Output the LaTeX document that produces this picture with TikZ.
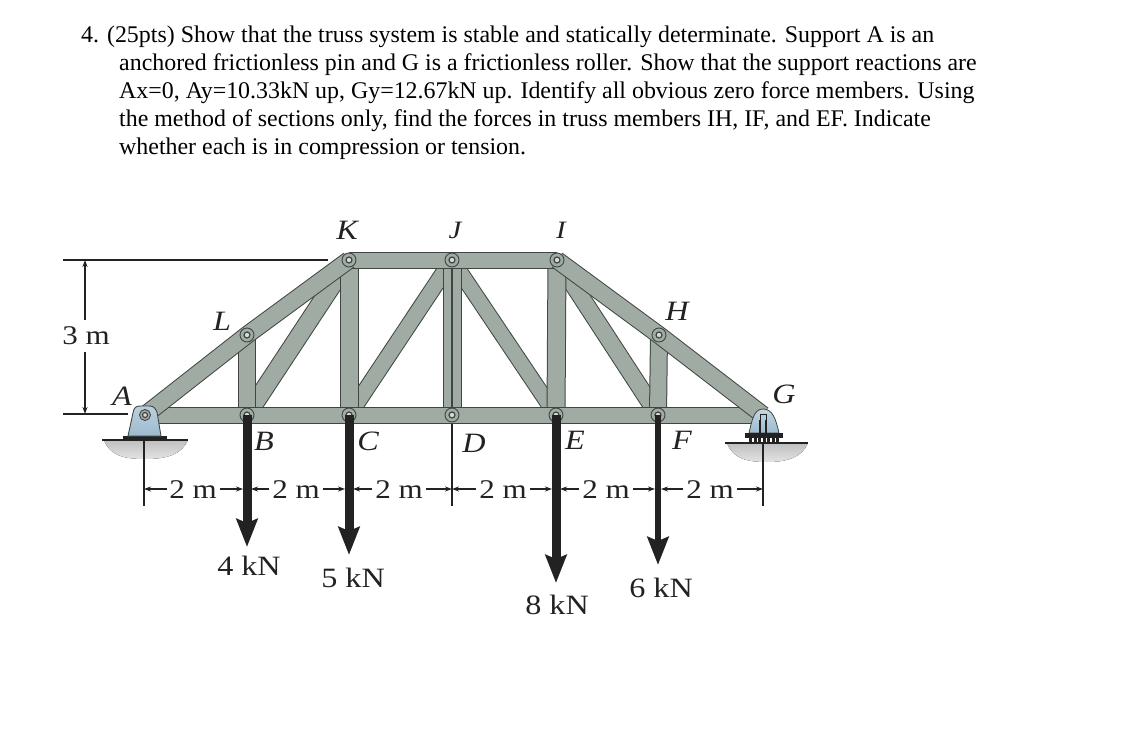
\documentclass[tikz,border=0pt]{standalone}
\usepackage{fontspec}
\setmainfont{Liberation Serif}
\newfontfamily\widefont[FakeStretch=1.15]{Liberation Serif}
\usetikzlibrary{arrows.meta}
\definecolor{trussgrey}{HTML}{A0ABA3}
\definecolor{trussedge}{HTML}{3F4641}
\definecolor{supportblue}{HTML}{9DBBCF}
\definecolor{inkdark}{HTML}{222222}
\tikzset{
  textline/.style={anchor=base west,inner sep=0pt,font=\fontsize{23.9}{23.9}\selectfont,text=black},
  member/.style={draw=trussedge,line width=1pt,double=trussgrey,double distance=#1},
  member/.default=14pt,
  pin/.style={circle,draw=trussedge,fill=trussgrey,line width=.9pt,minimum size=14pt,inner sep=0pt},
  pinhole/.style={circle,draw=trussedge,fill=white!85!black,line width=1.2pt,minimum size=6pt,inner sep=0pt},
  jointlabel/.style={inner sep=0pt,font=\widefont\fontsize{28}{28}\selectfont\itshape,text=inkdark},
  smalljoint/.style={inner sep=0pt,font=\widefont\fontsize{25}{25}\selectfont\itshape,text=inkdark},
  dimlabel/.style={inner sep=0pt,font=\widefont\fontsize{27}{27}\selectfont,text=inkdark},
  forcelabel/.style={inner sep=0pt,font=\widefont\fontsize{28}{28}\selectfont,text=inkdark},
  dimline/.style={draw=inkdark,line width=1.2pt},
  dimarrow/.style={draw=inkdark,line width=1.1pt,-{Stealth[length=7pt,width=5pt]}},
  load/.style={draw=inkdark,fill=none,line width=#1,-{Stealth[length=28pt,width=21pt,inset=4pt]}},
  load/.default=9pt,
}
\begin{document}
\begin{tikzpicture}[x=1pt,y=-1pt]
\useasboundingbox (0,0) rectangle (1122,736);
% text
\node[textline] (t1) at (81,42) {4. (25pts) Show that the truss system is stable and statically determinate. Support A is an};
\node[textline] (t2) at (119,70) {anchored frictionless pin and G is a frictionless roller. Show that the support reactions are};
\node[textline] (t3) at (119,98) {Ax=0, Ay=10.33kN up, Gy=12.67kN up. Identify all obvious zero force members. Using};
\node[textline] (t4) at (119,126) {the method of sections only, find the forces in truss members IH, IF, and EF. Indicate};
\node[textline] (t5) at (119,154) {whether each is in compression or tension.};
% joints
\coordinate (A) at (145,415);
\coordinate (B) at (247,415);
\coordinate (C) at (349,415);
\coordinate (D) at (452,415);
\coordinate (E) at (556,415);
\coordinate (F) at (658,415);
\coordinate (G) at (763,415);
\coordinate (K) at (349,260);
\coordinate (J) at (452,260);
\coordinate (I) at (557,260);
\coordinate (L) at (247,335);
\coordinate (H) at (659,335);
% ground
\coordinate (gA) at (145,440);
\coordinate (gG) at (763,443);
\fill[top color=gray!50,bottom color=gray!22] (104,440) .. controls (110,456) and (125,459) .. (145,459) .. controls (168,459) and (182,454) .. (188,440) -- cycle;
\fill[top color=gray!50,bottom color=gray!22] (727,443) .. controls (733,459) and (748,462) .. (767,462) .. controls (788,462) and (802,457) .. (808,443) -- cycle;
% dimension and extension lines behind the truss
\coordinate (d0) at (144,489);
\coordinate (d1) at (247,489);
\coordinate (d2) at (349,489);
\coordinate (d3) at (452,489);
\coordinate (d4) at (556,489);
\coordinate (d5) at (658,489);
\coordinate (d6) at (763,489);
\coordinate (e0) at (144,506);
\coordinate (e3) at (452,506);
\coordinate (e6) at (763,506);
\draw[dimline] (gA -| e0) -- (e0);
\draw[dimline] (D) -- (e3);
\draw[dimline] (gG) -- (e6);
\coordinate (w1) at (63,260);
\coordinate (w2) at (328,260);
\coordinate (w3) at (63,414);
\coordinate (w4) at (128,414);
\draw[dimline] (w1) -- (w2);
\draw[dimline] (w3) -- (w4);
\node[dimlabel] (h3) at (86,336) {3 m};
\coordinate (v1) at (85,260);
\coordinate (v2) at (85,320);
\coordinate (v3) at (85,352);
\coordinate (v4) at (85,414);
\draw[dimarrow] (v2) -- (v1);
\draw[dimarrow] (v3) -- (v4);
% truss members
\draw[member=17pt] (K) -- (B);
\draw[member=15pt] (C) -- (J);
\draw[member=14.5pt] (J) -- (E);
\draw[member=16pt] (I) -- (F);
\draw[member=16pt] (L) -- (B);
\draw[member=17pt] (K) -- (C);
\draw[member=17pt] (J) -- (D);
\draw[trussedge,line width=1.2pt] (J) -- (D);
\draw[member=17pt] (I) -- (E);
\draw[member=16pt] (H) -- (F);
\draw[member=15pt] (A) -- (B) -- (C) -- (D) -- (E) -- (F) -- (G);
\draw[member=15pt] (K) -- (J) -- (I);
\draw[member=16pt] (A) -- (L) -- (K);
\draw[member=16pt] (I) -- (H) -- (G);
% pins
\foreach \n in {K,J,I,L,H,B,C,D,E,F}{
  \node[pin] (p\n) at (\n) {};
  \node[pinhole] (q\n) at (\n) {};
}
% supports
\fill[inkdark] (123,436) rectangle (167,440);
\draw[dimline] (102,440) -- (188,440);
\draw[draw=trussedge,line width=.9pt,top color=supportblue!70,bottom color=supportblue] (128,436) -- (133,413) .. controls (134,407) and (136,406) .. (141,406) -- (149,406) .. controls (154,406) and (155,408) .. (157,412) -- (161,436) -- cycle;
\node[pin,minimum size=11pt,fill=gray!70] (pA) at (A) {};
\node[pinhole,minimum size=5pt] (qA) at (A) {};
\draw[draw=trussedge,line width=.8pt,top color=supportblue!60,bottom color=supportblue] (749,433) .. controls (752,420) and (754,409) .. (763,409) .. controls (773,409) and (776,420) .. (779,433) -- cycle;
\fill[inkdark] (745,433) rectangle (783,438);
\draw[inkdark,line width=5pt,dash pattern=on 3pt off 1.5pt] (749,440.5) -- (779,440.5);
\draw[dimline] (725,443) -- (808,443);
\draw[inkdark,line width=1.2pt] (760,420) -- (760,433) (766,420) -- (766,433);
\draw[inkdark,line width=1pt] (760,420) -- (760,414) -- (766,414) -- (766,420);
% loads
\coordinate (tB) at (247,547);
\coordinate (tC) at (349,555);
\coordinate (tE) at (556,583);
\coordinate (tF) at (658,565);
\draw[load] (B) -- (tB);
\draw[load] (C) -- (tC);
\draw[load] (E) -- (tE);
\draw[load=6.5pt] (F) -- (tF);
% span dimensions
\node[dimlabel] (s1) at (193,490) {2 m};
\node[dimlabel] (s2) at (296,490) {2 m};
\node[dimlabel] (s3) at (399,490) {2 m};
\node[dimlabel] (s4) at (503,490) {2 m};
\node[dimlabel] (s5) at (606,490) {2 m};
\node[dimlabel] (s6) at (710,490) {2 m};
\draw[dimarrow] (s1.west |- d0) ++(-2,0) -- (d0);
\draw[dimarrow] (s1.east |- d1) ++(3,0) -- ([xshift=-4pt]d1);
\draw[dimarrow] (s2.west |- d1) ++(-3,0) -- ([xshift=4pt]d1);
\draw[dimarrow] (s2.east |- d2) ++(3,0) -- ([xshift=-4pt]d2);
\draw[dimarrow] (s3.west |- d2) ++(-3,0) -- ([xshift=4pt]d2);
\draw[dimarrow] (s3.east |- d3) ++(3,0) -- (d3);
\draw[dimarrow] (s4.west |- d3) ++(-3,0) -- (d3);
\draw[dimarrow] (s4.east |- d4) ++(3,0) -- ([xshift=-4pt]d4);
\draw[dimarrow] (s5.west |- d4) ++(-3,0) -- ([xshift=4pt]d4);
\draw[dimarrow] (s5.east |- d5) ++(3,0) -- ([xshift=-3pt]d5);
\draw[dimarrow] (s6.west |- d5) ++(-3,0) -- ([xshift=3pt]d5);
\draw[dimarrow] (s6.east |- d6) ++(3,0) -- (d6);
% labels
\node[jointlabel] (lK) at (347,230) {K};
\node[smalljoint] (lJ) at (455,230) {J};
\node[smalljoint] (lI) at (561,230) {I};
\node[jointlabel] (lL) at (222,321) {L};
\node[jointlabel] (lH) at (677,311) {H};
\node[jointlabel] (lA) at (122,396) {A};
\node[jointlabel] (lG) at (784,394) {G};
\node[jointlabel] (lB) at (264,441) {B};
\node[jointlabel] (lC) at (368,441) {C};
\node[jointlabel] (lD) at (474,443) {D};
\node[jointlabel] (lE) at (575,440) {E};
\node[jointlabel] (lF) at (682,440) {F};
\node[forcelabel] (f4) at (249,566) {4 kN};
\node[forcelabel] (f5) at (353,578) {5 kN};
\node[forcelabel] (f8) at (557,605) {8 kN};
\node[forcelabel] (f6) at (661,588) {6 kN};
\end{tikzpicture}
\end{document}
